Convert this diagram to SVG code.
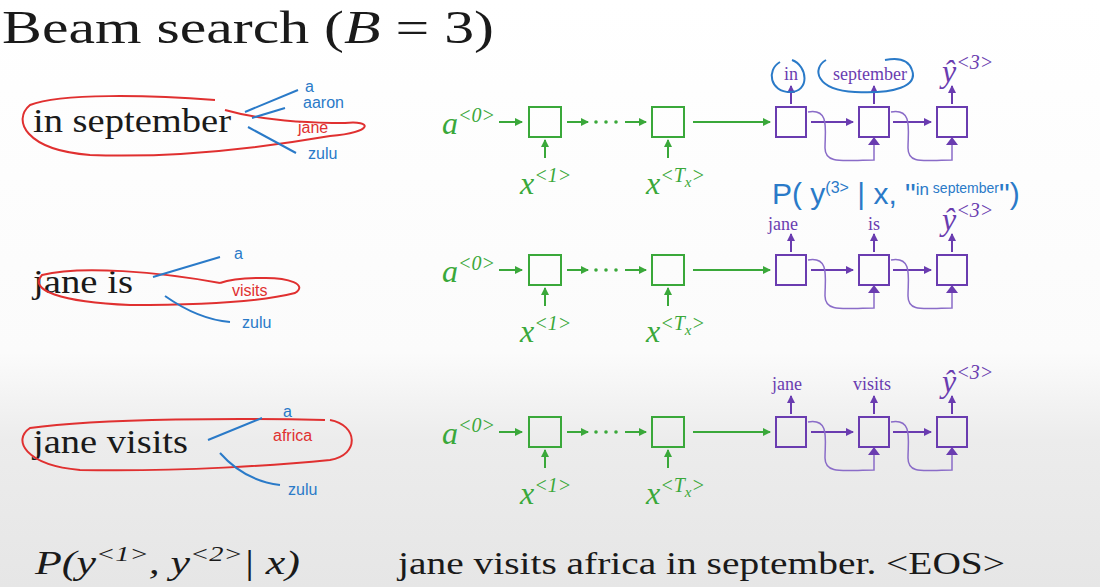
<svg xmlns="http://www.w3.org/2000/svg" xmlns:xlink="http://www.w3.org/1999/xlink" width="1100" height="587" viewBox="0 0 1100 587">
<style>
.g{fill:none;stroke:#3aa83a;stroke-width:2}
.p{fill:none;stroke:#6a3cb0;stroke-width:2}
.pt{fill:none;stroke:#8a6cc8;stroke-width:1.5}
.gt{fill:#3aa83a;font-family:'Liberation Serif',serif;font-style:italic}
.pl{fill:#6a3cb0;font-family:'Liberation Serif',serif;font-size:18px}
.bk{fill:#1a1a1a;font-family:'Liberation Serif',serif}
.red{fill:none;stroke:#e03030;stroke-width:2}
.blu{fill:none;stroke:#2a7ac8;stroke-width:2}
.hb{fill:#2a7ac8;font-family:'Liberation Sans',sans-serif;font-size:16px}
.hr{fill:#e03030;font-family:'Liberation Sans',sans-serif;font-size:16px}
</style>
<defs>
<linearGradient id="bg" x1="0" y1="0" x2="0" y2="1">
<stop offset="0" stop-color="#ffffff"/><stop offset="0.6" stop-color="#fbfbfb"/><stop offset="0.75" stop-color="#ececec"/><stop offset="1" stop-color="#e6e6e6"/>
</linearGradient>
<marker id="ag" markerWidth="8" markerHeight="8" refX="7" refY="4" orient="auto" markerUnits="userSpaceOnUse"><path d="M0,0 L8,4 L0,8 Z" fill="#3aa83a"/></marker>
<marker id="ap" markerWidth="8" markerHeight="8" refX="7" refY="4" orient="auto" markerUnits="userSpaceOnUse"><path d="M0,0 L8,4 L0,8 Z" fill="#6a3cb0"/></marker>
<g id="row">
<text class="gt" x="442" y="134" font-size="32">a<tspan font-size="20" dy="-12">&lt;0&gt;</tspan></text>
<line class="g" x1="499" y1="122" x2="522" y2="122" marker-end="url(#ag)"/>
<rect class="g" x="529" y="107" width="32" height="30"/>
<line class="g" x1="567" y1="122" x2="588" y2="122" marker-end="url(#ag)"/>
<circle cx="596" cy="122" r="1.8" fill="#3aa83a"/><circle cx="606" cy="122" r="1.8" fill="#3aa83a"/><circle cx="616" cy="122" r="1.8" fill="#3aa83a"/>
<line class="g" x1="625" y1="122" x2="646" y2="122" marker-end="url(#ag)"/>
<rect class="g" x="652" y="107" width="32" height="30"/>
<line class="g" x1="545" y1="158" x2="545" y2="140" marker-end="url(#ag)"/>
<line class="g" x1="668" y1="158" x2="668" y2="140" marker-end="url(#ag)"/>
<text class="gt" x="520" y="194" font-size="32">x<tspan font-size="20" dy="-12">&lt;1&gt;</tspan></text>
<text class="gt" x="646" y="194" font-size="32">x<tspan font-size="20" dy="-12">&lt;T<tspan font-size="15" dy="5">x</tspan><tspan dy="-5">&gt;</tspan></tspan></text>
<line class="g" x1="693" y1="122" x2="770" y2="122" marker-end="url(#ag)"/>
<rect class="p" x="776" y="107" width="30" height="30"/>
<rect class="p" x="859" y="107" width="30" height="30"/>
<rect class="p" x="937" y="107" width="30" height="30"/>
<line class="p" x1="811" y1="122" x2="853" y2="122" marker-end="url(#ap)"/>
<line class="p" x1="893" y1="122" x2="931" y2="122" marker-end="url(#ap)"/>
<path class="pt" d="M808,112 C830,108 825,130 825,148 C825,165 845,160 874,160 L874,142"/>
<path class="pt" d="M891,112 C913,108 908,130 908,148 C908,165 925,160 952,160 L952,142"/>
<path d="M868,145 L874,137 L880,145 Z M946,145 L952,137 L958,145 Z" fill="#6a3cb0"/>
<line class="p" x1="791" y1="104" x2="791" y2="86" marker-end="url(#ap)"/>
<line class="p" x1="874" y1="104" x2="874" y2="86" marker-end="url(#ap)"/>
<line class="p" x1="952" y1="104" x2="952" y2="86" marker-end="url(#ap)"/>
<text x="942" y="82" fill="#6a3cb0" font-family="Liberation Serif,serif" font-style="italic" font-size="32">ŷ<tspan font-size="20" dy="-13">&lt;3&gt;</tspan></text>
</g>
</defs>
<rect width="1100" height="587" fill="url(#bg)"/>
<text class="bk" x="2" y="43" font-size="46" textLength="492" lengthAdjust="spacingAndGlyphs">Beam search (<tspan font-style="italic">B</tspan> = 3)</text>
<g id="connectors">
<use xlink:href="#row"/>
<use xlink:href="#row" transform="translate(0,148)"/>
<use xlink:href="#row" transform="translate(0,310)"/>
</g>
<g id="row1">
<text class="pl" x="791" y="80" text-anchor="middle">in</text>
<text class="pl" x="870" y="80" text-anchor="middle">september</text>
<path class="blu" d="M780,62 C766,70 770,92 790,92 C810,92 808,66 792,60"/>
<path class="blu" d="M826,60 C812,68 815,90 855,92 C895,94 918,86 912,70 C908,58 895,58 885,60"/>
<text class="bk" x="33" y="132" font-size="34" textLength="198" lengthAdjust="spacingAndGlyphs">in september</text>
<path class="red" d="M215,100 C150,95 60,93 30,105 C12,120 25,150 90,155 C170,158 260,148 330,136 C375,132 372,120 345,123 C300,123 260,120 225,110"/>
<path class="blu" d="M245,112 L298,90 M252,118 L285,108 M248,127 L296,153"/>
<text class="hb" x="305" y="92">a</text>
<text class="hb" x="303" y="108">aaron</text>
<text class="hr" x="298" y="133">jane</text>
<text class="hb" x="308" y="159">zulu</text>
</g>
<g id="row2">
<text class="pl" x="783" y="230" text-anchor="middle">jane</text>
<text class="pl" x="874" y="230" text-anchor="middle">is</text>
<text x="772" y="204" fill="#2a7ac8" font-family="Liberation Sans,sans-serif" font-size="30">P( y<tspan font-size="16" dy="-11">(3&gt;</tspan><tspan dy="11"> | x, "</tspan><tspan font-size="17" dy="-9">in</tspan><tspan font-size="14" dy="-2"> september</tspan><tspan dy="11">")</tspan></text>
<text class="bk" x="33" y="293" font-size="34" textLength="100" lengthAdjust="spacingAndGlyphs">jane is</text>
<path class="red" d="M220,283 C160,272 80,265 42,275 C28,290 60,302 130,305 C200,305 260,302 295,293 C308,285 290,277 260,278 C240,278 228,280 220,283"/>
<path class="blu" d="M153,277 L220,257 M165,296 C185,310 205,320 230,322"/>
<text class="hb" x="234" y="259">a</text>
<text class="hr" x="232" y="296">visits</text>
<text class="hb" x="242" y="328">zulu</text>
</g>
<g id="row3">
<text class="pl" x="787" y="390" text-anchor="middle">jane</text>
<text class="pl" x="872" y="390" text-anchor="middle">visits</text>
<text class="bk" x="33" y="453" font-size="34" textLength="155" lengthAdjust="spacingAndGlyphs">jane visits</text>
<path class="red" d="M325,420 C250,418 100,418 30,428 C12,440 25,465 80,470 C180,472 280,465 330,460 C360,455 358,425 330,420"/>
<path class="blu" d="M208,440 L262,418 M220,453 C235,470 255,482 280,485"/>
<text class="hb" x="283" y="417">a</text>
<text class="hr" x="273" y="441">africa</text>
<text class="hb" x="288" y="495">zulu</text>
</g>
<g id="bottom">
<text class="bk" x="35" y="574" font-size="34" font-style="italic" textLength="265" lengthAdjust="spacingAndGlyphs">P(y<tspan font-size="22" dy="-13">&lt;1&gt;</tspan><tspan dy="13">, y</tspan><tspan font-size="22" dy="-13">&lt;2&gt;</tspan><tspan dy="13">| x)</tspan></text>
<text class="bk" x="398" y="574" font-size="32" textLength="607" lengthAdjust="spacingAndGlyphs">jane visits africa in september. &lt;EOS&gt;</text>
</g>
</svg>
